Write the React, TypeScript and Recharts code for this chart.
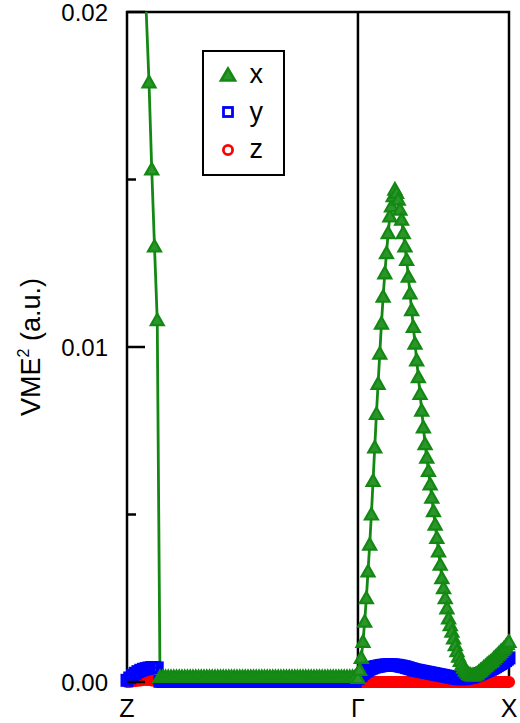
import React from "react";
import {
  LineChart,
  Line,
  XAxis,
  YAxis,
  ReferenceLine,
  ReferenceArea,
  Legend,
} from "recharts";

const FONT = "'Liberation Sans', Arial, Helvetica, sans-serif";
const GREEN = "#138813";
const GREEN_FILL = "#2a962a";
const BLUE = "#0000ff";
const RED = "#ff0000";

// high-symmetry points along the k-path (Z-Γ length = 1)
const kPoints = [0, 1, 1.654];
const kLabels = ["Z", "Γ", "X"];
// number of k steps in each segment
const segmentSteps = [84, 90];

const yDomain = [0, 0.02];
const yTicks = [0, 0.005, 0.01, 0.015, 0.02];
const yTickLabels = ["0.00", "", "0.01", "", "0.02"];

const seriesOrder = ["x", "y", "z"];

// VME² along Z-Γ (84 points, Γ excluded) then Γ-X (91 points)
const vmeX = [
  null, null, null, null, null, null, null, 0.02, 0.0179, 0.0153, 0.013, 0.0108,
  0.00015, 0.00015, 0.00015, 0.00015, 0.00015, 0.00015, 0.00015, 0.00015, 0.00015, 0.00015, 0.00015, 0.00015,
  0.00015, 0.00015, 0.00015, 0.00015, 0.00015, 0.00015, 0.00015, 0.00015, 0.00015, 0.00015, 0.00015, 0.00015,
  0.00015, 0.00015, 0.00015, 0.00015, 0.00015, 0.00015, 0.00015, 0.00015, 0.00015, 0.00015, 0.00015, 0.00015,
  0.00015, 0.00015, 0.00015, 0.00015, 0.00015, 0.00015, 0.00015, 0.00015, 0.00015, 0.00015, 0.00015, 0.00015,
  0.00015, 0.00015, 0.00015, 0.00015, 0.00015, 0.00015, 0.00015, 0.00015, 0.00015, 0.00015, 0.00015, 0.00015,
  0.00015, 0.00015, 0.00015, 0.00015, 0.00015, 0.00015, 0.00015, 0.00015, 0.00015, 0.00015, 0.00015, 0.00015,
  // Γ-X
  0.00012, 0.00036, 0.00072, 0.0012, 0.0018, 0.0025, 0.0033, 0.0041, 0.005, 0.006,
  0.007, 0.008, 0.0089, 0.0098, 0.0107, 0.0115, 0.0122, 0.0128, 0.0134, 0.0139,
  0.0142, 0.0145, 0.0147, 0.0146, 0.0144, 0.0141, 0.0138, 0.0134, 0.013, 0.0126,
  0.0121, 0.0116, 0.0111, 0.0106, 0.0101, 0.0096, 0.0091, 0.0086, 0.0081, 0.0076,
  0.0071, 0.0067, 0.0063, 0.0059, 0.0055, 0.0051, 0.0047, 0.0043, 0.0039, 0.0035,
  0.0031, 0.0028, 0.0025, 0.0022, 0.0019, 0.0017, 0.0015, 0.0013, 0.0011, 0.00092,
  0.00076, 0.00063, 0.00052, 0.00043, 0.00035, 0.00029, 0.00024, 0.00021, 0.0002, 0.0002,
  0.00022, 0.00025, 0.0003, 0.00034, 0.00038, 0.00043, 0.00047, 0.00052, 0.00056, 0.0006,
  0.00064, 0.0007, 0.00075, 0.0008, 0.00085, 0.0009, 0.00095, 0.001, 0.00106, 0.00113,
  0.0012,
];

const vmeY = [
  0.00005, 0.00012, 0.0002, 0.00026, 0.00031, 0.00035, 0.00038, 0.0004, 0.00042, 0.00043, 0.00043, 0.00042,
  0.00002, 0.00002, 0.00002, 0.00002, 0.00002, 0.00002, 0.00002, 0.00002, 0.00002, 0.00002, 0.00002, 0.00002,
  0.00002, 0.00002, 0.00002, 0.00002, 0.00002, 0.00002, 0.00002, 0.00002, 0.00002, 0.00002, 0.00002, 0.00002,
  0.00002, 0.00002, 0.00002, 0.00002, 0.00002, 0.00002, 0.00002, 0.00002, 0.00002, 0.00002, 0.00002, 0.00002,
  0.00002, 0.00002, 0.00002, 0.00002, 0.00002, 0.00002, 0.00002, 0.00002, 0.00002, 0.00002, 0.00002, 0.00002,
  0.00002, 0.00002, 0.00002, 0.00002, 0.00002, 0.00002, 0.00002, 0.00002, 0.00002, 0.00002, 0.00002, 0.00002,
  0.00002, 0.00002, 0.00002, 0.00002, 0.00002, 0.00002, 0.00002, 0.00002, 0.00002, 0.00002, 0.00002, 0.00002,
  // Γ-X
  0.0001, 0.00015, 0.0002, 0.00025, 0.0003, 0.00033, 0.00036, 0.00039, 0.00041, 0.00043,
  0.00045, 0.00046, 0.00047, 0.00048, 0.00049, 0.0005, 0.0005, 0.00051, 0.00051, 0.00051,
  0.00051, 0.00051, 0.0005, 0.0005, 0.00049, 0.00048, 0.00047, 0.00046, 0.00045, 0.00043,
  0.00042, 0.0004, 0.00039, 0.00037, 0.00036, 0.00035, 0.00034, 0.00033, 0.00032, 0.00031,
  0.0003, 0.00029, 0.00028, 0.00027, 0.00026, 0.00025, 0.00024, 0.00023, 0.00022, 0.00021,
  0.0002, 0.00019, 0.00018, 0.00017, 0.00016, 0.00015, 0.00014, 0.00013, 0.00012, 0.00011,
  0.0001, 0.0001, 0.0001, 0.0001, 0.00011, 0.00012, 0.00013, 0.00014, 0.00015, 0.00017,
  0.00019, 0.00021, 0.00023, 0.00025, 0.00027, 0.0003, 0.00032, 0.00034, 0.00036, 0.00038,
  0.0004, 0.00043, 0.00046, 0.00049, 0.00052, 0.00055, 0.00058, 0.00061, 0.00064, 0.00068,
  0.00072,
];

const vmeZ = [
  0, 0, 0.00002, 0.00003, 0.00004, 0.00005, 0.00006, 0.00006, 0.00006, 0.00005, 0.00004, 0.00002,
  0, 0, 0, 0, 0, 0, 0, 0, 0, 0, 0, 0,
  0, 0, 0, 0, 0, 0, 0, 0, 0, 0, 0, 0,
  0, 0, 0, 0, 0, 0, 0, 0, 0, 0, 0, 0,
  0, 0, 0, 0, 0, 0, 0, 0, 0, 0, 0, 0,
  0, 0, 0, 0, 0, 0, 0, 0, 0, 0, 0, 0,
  0, 0, 0, 0, 0, 0, 0, 0, 0, 0, 0, 0,
  // Γ-X
  0, 0, 0, 0, 0, 0, 0, 0, 0, 0,
  0, 0, 0, 0, 0, 0, 0, 0, 0, 0,
  0, 0, 0, 0, 0, 0, 0, 0, 0, 0,
  0, 0, 0, 0, 0, 0, 0, 0, 0, 0,
  0, 0, 0, 0, 0, 0, 0, 0, 0, 0,
  0, 0, 0, 0, 0, 0, 0, 0, 0, 0,
  0, 0, 0, 0, 0, 0, 0, 0, 0, 0,
  0, 0, 0, 0, 0, 0, 0, 0, 0, 0,
  0, 0, 0, 0, 0, 0, 0, 0, 0, 0,
  0,
];

// evenly spaced k-grid along each segment
const kGrid: number[] = [];
segmentSteps.forEach((steps, s) => {
  const start = kPoints[s];
  const end = kPoints[s + 1];
  const last = s === segmentSteps.length - 1 ? steps : steps - 1;
  for (let i = 0; i <= last; i++) kGrid.push(start + ((end - start) * i) / steps);
});

const data = kGrid.map((k, i) => ({ k, x: vmeX[i], y: vmeY[i], z: vmeZ[i] }));

const TriangleDot = (props: any) => {
  const { cx, cy, value, index } = props;
  if (cx == null || cy == null || value == null || value >= yDomain[1]) {
    return <g key={`tri-${index}`} />;
  }
  return (
    <polygon
      key={`tri-${index}`}
      points={`${cx},${cy - 6.5} ${cx - 6.5},${cy + 5} ${cx + 6.5},${cy + 5}`}
      fill={GREEN_FILL}
      stroke={GREEN}
      strokeWidth={2.2}
    />
  );
};

const SquareDot = (props: any) => {
  const { cx, cy, index } = props;
  if (cx == null || cy == null) return <g key={`sq-${index}`} />;
  return (
    <rect
      key={`sq-${index}`}
      x={cx - 5}
      y={cy - 5}
      width={10}
      height={10}
      fill="none"
      stroke={BLUE}
      strokeWidth={3}
    />
  );
};

const CircleDot = (props: any) => {
  const { cx, cy, index } = props;
  if (cx == null || cy == null) return <g key={`ci-${index}`} />;
  return <circle key={`ci-${index}`} cx={cx} cy={cy} r={4.6} fill="none" stroke={RED} strokeWidth={3} />;
};

const legendSymbol = (key: string) => {
  if (key === "x") {
    return <polygon points="10,3.5 3,15.5 17,15.5" fill={GREEN_FILL} stroke={GREEN} strokeWidth={2.6} />;
  }
  if (key === "y") {
    return <rect x={5.5} y={5.5} width={9} height={9} fill="none" stroke={BLUE} strokeWidth={2.8} />;
  }
  return <circle cx={10} cy={10} r={4.6} fill="none" stroke={RED} strokeWidth={2.8} />;
};

const LegendBox = (props: any) => {
  const items = [...(props.payload ?? [])].sort(
    (a, b) => seriesOrder.indexOf(a.value) - seriesOrder.indexOf(b.value)
  );
  return (
    <div
      style={{
        width: 83,
        height: 126,
        boxSizing: "border-box",
        border: "2.5px solid #000",
        background: "#fff",
        paddingTop: 3.75,
        fontFamily: FONT,
      }}
    >
      {items.map((entry: any) => (
        <div key={entry.value} style={{ display: "flex", alignItems: "center", height: 37.5 }}>
          <svg width={20} height={20} style={{ marginLeft: 13.5 }}>
            {legendSymbol(entry.value)}
          </svg>
          <span style={{ marginLeft: 12, fontSize: 27, lineHeight: "27px", color: "#000" }}>
            {entry.value}
          </span>
        </div>
      ))}
    </div>
  );
};

const YTick = (props: any) => {
  const { x, y, payload } = props;
  const label = yTickLabels[yTicks.indexOf(payload.value)];
  return (
    <g>
      <line x1={x} x2={x + (label ? 18 : 9)} y1={y} y2={y} stroke="#000" strokeWidth={2.5} />
      {label ? (
        <text x={x - 19} y={y} dy="0.36em" textAnchor="end" fontSize={24} fill="#000">
          {label}
        </text>
      ) : null}
    </g>
  );
};

const YTitle = (props: any) => {
  const { viewBox } = props;
  const cx = viewBox.x + 30;
  const cy = viewBox.y + viewBox.height / 2;
  return (
    <text
      x={cx}
      y={cy}
      transform={`rotate(-90 ${cx} ${cy})`}
      textAnchor="middle"
      dy="0.36em"
      fontSize={27}
      fill="#000"
    >
      VME
      <tspan dy={-11} fontSize={16}>
        2
      </tspan>
      <tspan dy={11}> (a.u.)</tspan>
    </text>
  );
};

export default function App() {
  return (
    <div style={{ position: "absolute", left: 0, top: 0, fontFamily: FONT, background: "#fff" }}>
      <LineChart
        width={520}
        height={723}
        data={data}
        margin={{ top: 12, right: 11, bottom: 0, left: 0 }}
      >
        <XAxis
          dataKey="k"
          type="number"
          domain={[kPoints[0], kPoints[kPoints.length - 1]]}
          ticks={kPoints}
          interval={0}
          tickFormatter={(v: number) => kLabels[kPoints.indexOf(v)]}
          axisLine={false}
          tickLine={false}
          tickSize={0}
          tickMargin={17}
          height={41}
          tick={{ fontSize: 25, fill: "#000" }}
        />
        <YAxis
          type="number"
          domain={yDomain}
          ticks={yTicks}
          interval={0}
          width={127}
          axisLine={false}
          tickLine={false}
          tickSize={0}
          tickMargin={0}
          tick={YTick}
          label={YTitle}
        />
        <Line
          name="z"
          dataKey="z"
          type="linear"
          stroke={RED}
          strokeWidth={1.5}
          dot={CircleDot}
          activeDot={false}
          isAnimationActive={false}
        />
        <Line
          name="y"
          dataKey="y"
          type="linear"
          stroke={BLUE}
          strokeWidth={1.5}
          dot={SquareDot}
          activeDot={false}
          isAnimationActive={false}
        />
        <Line
          name="x"
          dataKey="x"
          type="linear"
          stroke={GREEN}
          strokeWidth={2.8}
          dot={TriangleDot}
          activeDot={false}
          isAnimationActive={false}
        />
        <ReferenceLine x={kPoints[1]} stroke="#000" strokeWidth={2.5} />
        <ReferenceArea
          x1={kPoints[0]}
          x2={kPoints[kPoints.length - 1]}
          y1={yDomain[0]}
          y2={yDomain[1]}
          fill="none"
          fillOpacity={0}
          stroke="#000"
          strokeWidth={2.5}
        />
        <Legend
          content={LegendBox}
          layout="vertical"
          align="center"
          verticalAlign="middle"
          wrapperStyle={{ left: 202, top: 50, width: 83, height: 126 }}
        />
      </LineChart>
    </div>
  );
}
